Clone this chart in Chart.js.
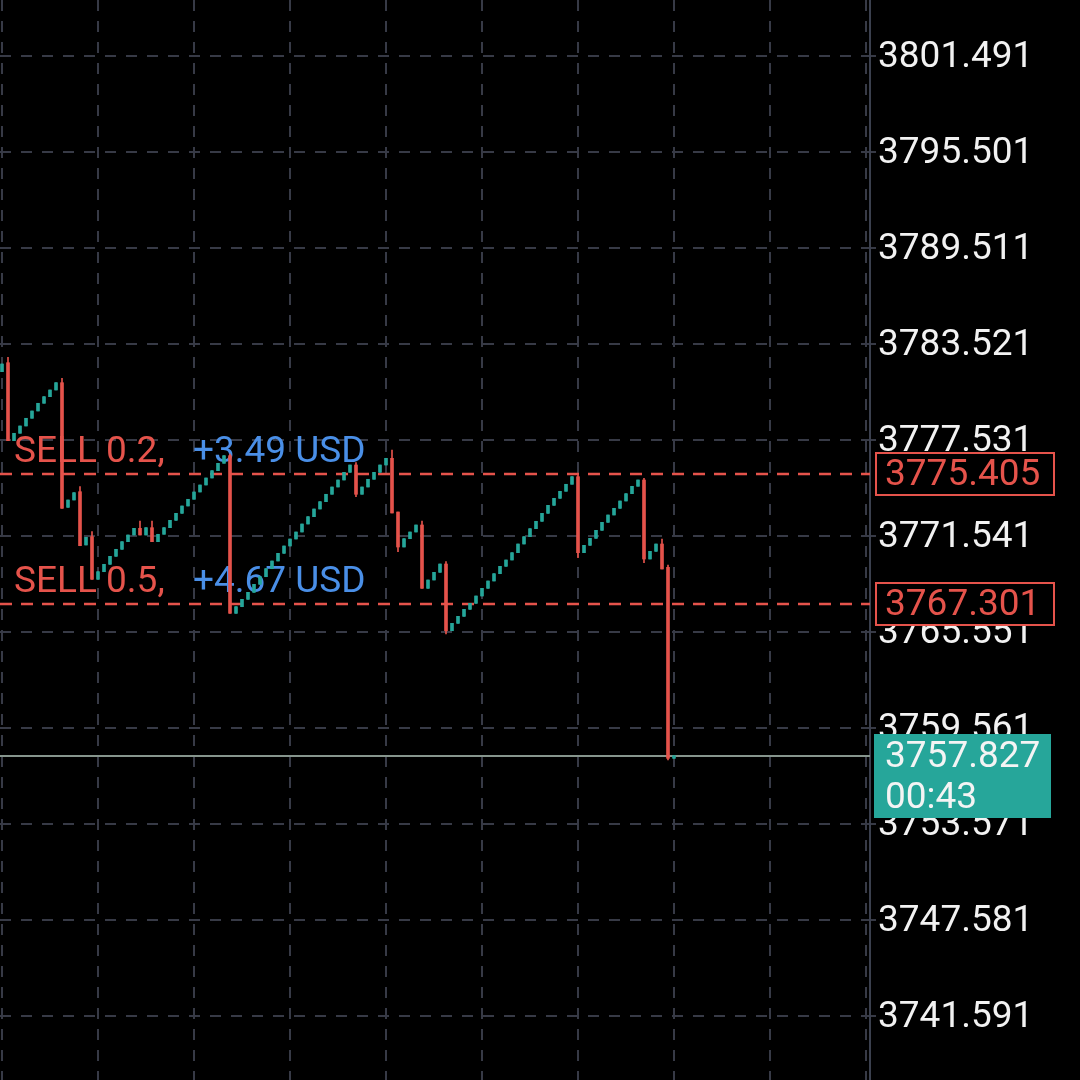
<!DOCTYPE html>
<html>
<head>
<meta charset="utf-8">
<script src="https://cdn.jsdelivr.net/npm/chart.js@4.4.1/dist/chart.umd.min.js"></script>
<style>
  html, body { margin: 0; padding: 0; background: #000; }
  canvas { display: block; }
</style>
</head>
<body>
<canvas id="priceChart" width="1080" height="1080"></canvas>
<script>
// candle values, left to right
const opens = [
  3781.793, 3782.354, 3777.487, 3777.949, 3778.405, 3778.885, 3779.341, 3779.821, 3780.233, 3780.651,
  3781.106, 3773.331, 3773.787, 3774.305, 3770.979, 3771.497, 3768.839, 3769.313, 3769.775, 3770.274,
  3770.711, 3771.185, 3771.603, 3772.021, 3771.603, 3772.059, 3771.185, 3771.647, 3772.059, 3772.520,
  3772.957, 3773.413, 3773.831, 3774.286, 3774.723, 3775.160, 3775.615, 3776.077, 3776.551, 3766.717,
  3767.129, 3767.591, 3768.027, 3768.527, 3769.001, 3769.500, 3769.981, 3770.461, 3770.917, 3771.353,
  3771.790, 3772.289, 3772.745, 3773.225, 3773.681, 3774.143, 3774.598, 3775.035, 3775.515, 3775.971,
  3774.143, 3774.598, 3775.079, 3775.515, 3775.971, 3776.389, 3773.038, 3770.854, 3771.372, 3771.790,
  3772.227, 3768.277, 3768.795, 3769.275, 3769.793, 3765.631, 3766.093, 3766.530, 3766.967, 3767.341,
  3767.797, 3768.277, 3768.733, 3769.188, 3769.650, 3770.043, 3770.499, 3771.041, 3771.497, 3771.996,
  3772.458, 3772.957, 3773.456, 3773.893, 3774.330, 3774.767, 3775.241, 3770.499, 3770.960, 3771.397,
  3771.896, 3772.395, 3772.851, 3773.269, 3773.725, 3774.180, 3774.642, 3775.035, 3770.105, 3770.586,
  3771.041, 3769.587, 3757.669
];
const closes = [
  3782.273, 3777.487, 3777.949, 3778.405, 3778.885, 3779.341, 3779.821, 3780.233, 3780.651, 3781.106,
  3773.269, 3773.787, 3774.243, 3770.935, 3771.459, 3768.839, 3769.313, 3769.775, 3770.274, 3770.711,
  3771.185, 3771.603, 3772.021, 3771.603, 3772.059, 3771.185, 3771.647, 3772.059, 3772.520, 3772.957,
  3773.413, 3773.831, 3774.286, 3774.723, 3775.160, 3775.615, 3776.077, 3776.551, 3766.717, 3767.129,
  3767.591, 3768.027, 3768.527, 3769.001, 3769.500, 3769.981, 3770.461, 3770.917, 3771.353, 3771.790,
  3772.289, 3772.745, 3773.225, 3773.681, 3774.143, 3774.598, 3775.035, 3775.515, 3775.971, 3774.143,
  3774.598, 3775.079, 3775.515, 3775.971, 3776.389, 3772.976, 3770.854, 3771.372, 3771.790, 3772.227,
  3768.277, 3768.795, 3769.275, 3769.793, 3765.631, 3766.093, 3766.530, 3766.967, 3767.341, 3767.797,
  3768.277, 3768.733, 3769.188, 3769.650, 3770.043, 3770.499, 3771.041, 3771.497, 3771.996, 3772.458,
  3772.957, 3773.456, 3773.893, 3774.330, 3774.767, 3775.241, 3770.499, 3770.960, 3771.397, 3771.896,
  3772.395, 3772.851, 3773.269, 3773.725, 3774.180, 3774.642, 3775.035, 3770.105, 3770.586, 3771.041,
  3769.481, 3757.669, 3757.827
];
const highs = [
  3782.273, 3782.691, 3777.949, 3778.405, 3778.885, 3779.341, 3779.821, 3780.233, 3780.651, 3781.106,
  3781.381, 3773.787, 3774.243, 3774.617, 3771.459, 3771.809, 3769.313, 3769.775, 3770.274, 3770.711,
  3771.185, 3771.603, 3772.021, 3772.477, 3772.059, 3772.477, 3771.647, 3772.059, 3772.520, 3772.957,
  3773.413, 3773.831, 3774.286, 3774.723, 3775.160, 3775.615, 3776.077, 3776.551, 3776.657, 3767.129,
  3767.591, 3768.027, 3768.527, 3769.001, 3769.500, 3769.981, 3770.461, 3770.917, 3771.353, 3771.790,
  3772.289, 3772.745, 3773.225, 3773.681, 3774.143, 3774.598, 3775.035, 3775.515, 3775.971, 3776.115,
  3774.598, 3775.079, 3775.515, 3775.971, 3776.389, 3776.907, 3773.038, 3771.372, 3771.790, 3772.227,
  3772.477, 3768.795, 3769.275, 3769.793, 3769.937, 3766.093, 3766.530, 3766.967, 3767.341, 3767.797,
  3768.277, 3768.733, 3769.188, 3769.650, 3770.043, 3770.499, 3771.041, 3771.497, 3771.996, 3772.458,
  3772.957, 3773.456, 3773.893, 3774.330, 3774.767, 3775.241, 3775.347, 3770.960, 3771.397, 3771.896,
  3772.395, 3772.851, 3773.269, 3773.725, 3774.180, 3774.642, 3775.035, 3775.141, 3770.586, 3771.041,
  3771.353, 3769.731, 3757.827
];
const lows = [
  3781.793, 3777.487, 3777.487, 3777.949, 3778.405, 3778.885, 3779.341, 3779.821, 3780.233, 3780.651,
  3773.269, 3773.331, 3773.787, 3770.935, 3770.979, 3768.839, 3768.839, 3769.313, 3769.775, 3770.274,
  3770.711, 3771.185, 3771.603, 3771.603, 3771.603, 3771.185, 3771.185, 3771.647, 3772.059, 3772.520,
  3772.957, 3773.413, 3773.831, 3774.286, 3774.723, 3775.160, 3775.615, 3776.077, 3766.717, 3766.717,
  3767.129, 3767.591, 3768.027, 3768.527, 3769.001, 3769.500, 3769.981, 3770.461, 3770.917, 3771.353,
  3771.790, 3772.289, 3772.745, 3773.225, 3773.681, 3774.143, 3774.598, 3775.035, 3775.515, 3773.993,
  3774.143, 3774.598, 3775.079, 3775.515, 3775.971, 3772.976, 3770.561, 3770.854, 3771.372, 3771.790,
  3768.277, 3768.277, 3768.795, 3769.275, 3765.425, 3765.631, 3766.093, 3766.530, 3766.967, 3767.341,
  3767.797, 3768.277, 3768.733, 3769.188, 3769.650, 3770.043, 3770.499, 3771.041, 3771.497, 3771.996,
  3772.458, 3772.957, 3773.456, 3773.893, 3774.330, 3774.767, 3770.187, 3770.499, 3770.960, 3771.397,
  3771.896, 3772.395, 3772.851, 3773.269, 3773.725, 3774.180, 3774.642, 3769.875, 3770.105, 3770.586,
  3769.481, 3757.563, 3757.669
];

// price scale labels on the right
const priceTicks = [3741.591, 3747.581, 3753.571, 3759.561, 3765.551, 3771.541, 3777.531, 3783.521, 3789.511, 3795.501, 3801.491];
// vertical grid every 16 bars
const timeGridSlots = [0, 16, 32, 48, 64, 80, 96, 112, 128, 144];

// open positions
const orderPrices = [3775.405, 3767.301];
const orderSides = ['SELL 0.2,', 'SELL 0.5,'];
const orderProfits = ['+3.49 USD', '+4.67 USD'];
const lastPrice = 3757.827;
const countdown = '00:43';

const UP = '#26a69a';
const DOWN = '#e5534b';
const PROFIT = '#4a8fe7';
const GRID = '#373a46';
const FONT = 'Roboto, "Noto Sans", sans-serif';

const candleColors = opens.map((o, i) => closes[i] >= o ? UP : DOWN);

const overlay = {
  id: 'overlay',
  beforeDatasetsDraw(chart) {
    const { ctx, chartArea, scales: { y } } = chart;
    ctx.save();
    orderPrices.forEach((p, k) => {
      const py = Math.round(y.getPixelForValue(p));
      ctx.strokeStyle = DOWN;
      ctx.lineWidth = 2.5;
      ctx.setLineDash([12, 9]);
      ctx.beginPath();
      ctx.moveTo(chartArea.left, py);
      ctx.lineTo(chartArea.right, py);
      ctx.stroke();
      ctx.setLineDash([]);
      ctx.font = '37px ' + FONT;
      ctx.textBaseline = 'alphabetic';
      ctx.textAlign = 'left';
      ctx.fillStyle = DOWN;
      ctx.fillText(orderSides[k], 14, py - 12);
      ctx.fillStyle = PROFIT;
      ctx.fillText(orderProfits[k], 193, py - 12);
    });
    // current bid line
    const ly = Math.round(y.getPixelForValue(lastPrice));
    ctx.strokeStyle = '#86958d';
    ctx.lineWidth = 2;
    ctx.beginPath();
    ctx.moveTo(chartArea.left, ly);
    ctx.lineTo(chartArea.right, ly);
    ctx.stroke();
    ctx.restore();
  },
  afterDraw(chart) {
    const { ctx, chartArea, scales: { y } } = chart;
    const x0 = chartArea.right + 6;
    ctx.save();
    ctx.font = '37px ' + FONT;
    ctx.textAlign = 'left';
    ctx.textBaseline = 'middle';
    orderPrices.forEach((p) => {
      const py = Math.round(y.getPixelForValue(p));
      ctx.fillStyle = '#000';
      ctx.fillRect(x0, py - 21, 178, 42);
      ctx.strokeStyle = DOWN;
      ctx.lineWidth = 2;
      ctx.strokeRect(x0, py - 21, 178, 42);
      ctx.fillStyle = DOWN;
      ctx.fillText(p.toFixed(3), x0 + 9, py + 2);
    });
    const ly = Math.round(y.getPixelForValue(lastPrice));
    ctx.fillStyle = UP;
    ctx.fillRect(x0 - 2, ly - 22, 177, 84);
    ctx.fillStyle = '#f4f4f4';
    ctx.fillText(lastPrice.toFixed(3), x0 + 9, ly + 2);
    ctx.fillText(countdown, x0 + 9, ly + 43);
    ctx.restore();
  }
};

new Chart(document.getElementById('priceChart'), {
  type: 'bar',
  data: {
    datasets: [{
      // wicks
      data: opens.map((o, i) => ({ x: i, y: [lows[i], highs[i]] })),
      backgroundColor: candleColors,
      barThickness: 1,
      grouped: false,
      borderWidth: 0
    }, {
      // bodies
      data: opens.map((o, i) => ({ x: i, y: [o, closes[i]] })),
      backgroundColor: candleColors,
      barThickness: 3,
      grouped: false,
      borderWidth: 0
    }]
  },
  options: {
    responsive: false,
    devicePixelRatio: 1,
    animation: false,
    layout: { padding: 0 },
    plugins: {
      legend: { display: false },
      tooltip: { enabled: false }
    },
    scales: {
      x: {
        type: 'linear',
        min: -1 / 3,
        max: 144 + 2 / 3,
        offset: false,
        afterBuildTicks: (scale) => { scale.ticks = timeGridSlots.map(v => ({ value: v })); },
        ticks: { display: false },
        grid: { color: GRID, lineWidth: 2, drawTicks: false, offset: false },
        border: { display: false, dash: [11, 10] }
      },
      y: {
        position: 'right',
        min: 3737.598,
        max: 3804.984,
        afterBuildTicks: (scale) => { scale.ticks = priceTicks.map(v => ({ value: v })); },
        afterFit: (scale) => {
          scale.width = 210;
          scale.paddingTop = 0;
          scale.paddingBottom = 0;
        },
        ticks: {
          color: '#f2f2f2',
          font: { family: FONT, size: 37 },
          padding: 2,
          labelOffset: 2,
          callback: (v) => Number(v).toFixed(3)
        },
        grid: { color: GRID, lineWidth: 2, tickLength: 6, tickColor: GRID },
        border: { display: true, color: '#3b404e', width: 2, dash: [11, 10] }
      }
    }
  },
  plugins: [overlay]
});
</script>
</body>
</html>
